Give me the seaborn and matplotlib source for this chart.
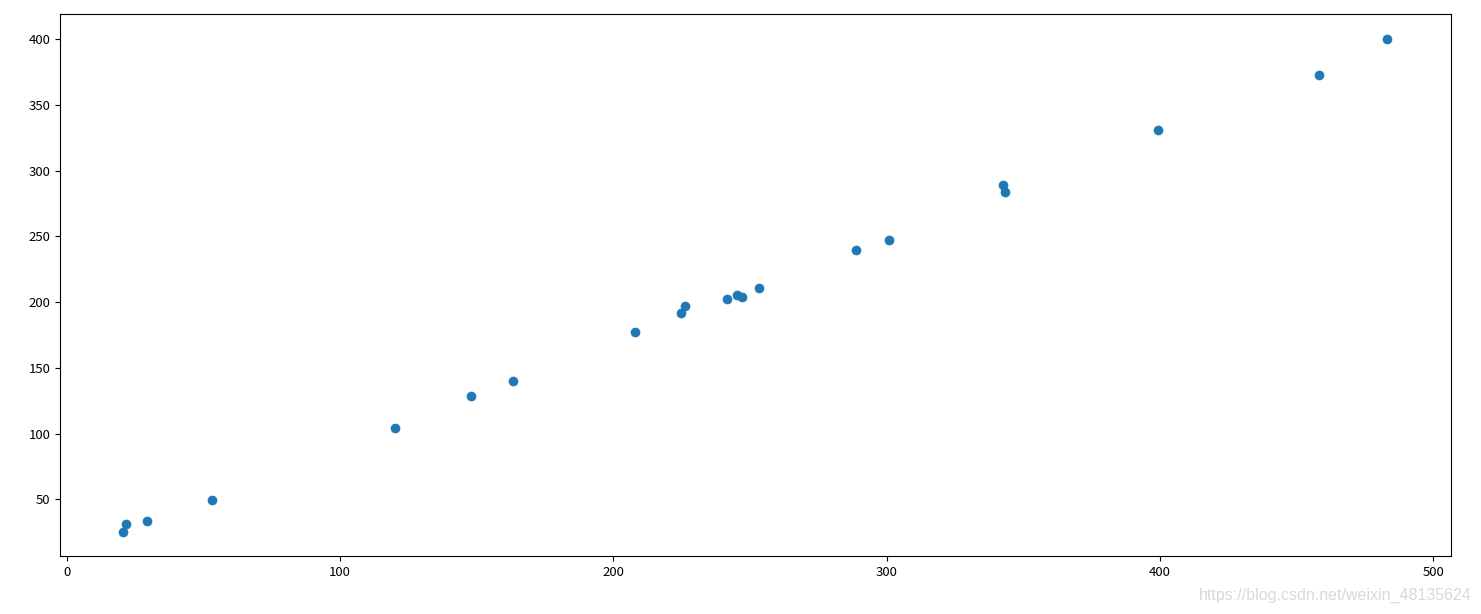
import matplotlib
matplotlib.use("Agg")
import matplotlib.pyplot as plt
import seaborn as sns
import pandas as pd

# values
x_values = [20.6, 21.6, 29.4, 53.1, 120.0, 147.9, 163.4, 207.8, 224.8, 226.2, 241.6,
            245.1, 247.2, 253.2, 288.8, 301.0, 342.7, 343.4, 399.2, 458.0, 483.2]
y_values = [24.9, 31.0, 33.2, 49.5, 104.2, 128.8, 140.2, 177.3, 191.5, 197.1, 202.4,
            205.2, 203.7, 210.8, 239.4, 247.5, 288.9, 283.6, 331.0, 372.6, 400.0]
watermark = "https://blog.csdn.net/weixin_48135624"

plt.rcParams['font.family'] = ['Noto Sans CJK SC', 'DejaVu Sans']
plt.rcParams['axes.unicode_minus'] = False

df = pd.DataFrame({"x": x_values, "y": y_values})

fig = plt.figure(figsize=(14.81, 6.14), dpi=100)
ax = fig.add_axes([0.0405, 0.0945, 0.9393, 0.8827])
sns.scatterplot(data=df, x="x", y="y", ax=ax, s=42, color="#1f77b4",
                edgecolor="#1f77b4", linewidth=0.5)
ax.set_xlabel("")
ax.set_ylabel("")
ax.set_xlim(-2.45, 506.5)
ax.set_ylim(6.9, 419.2)
ax.set_xticks([0, 100, 200, 300, 400, 500])
ax.set_yticks([50, 100, 150, 200, 250, 300, 350, 400])
ax.tick_params(labelsize=9.5)

# csdn watermark in the bottom right corner
fig.text(0.994, 0.031, watermark, ha="right", va="center", fontsize=11.5,
         color="#d9d9d9", family=["Liberation Sans", "DejaVu Sans"])

fig.savefig("out.png", dpi=100)
